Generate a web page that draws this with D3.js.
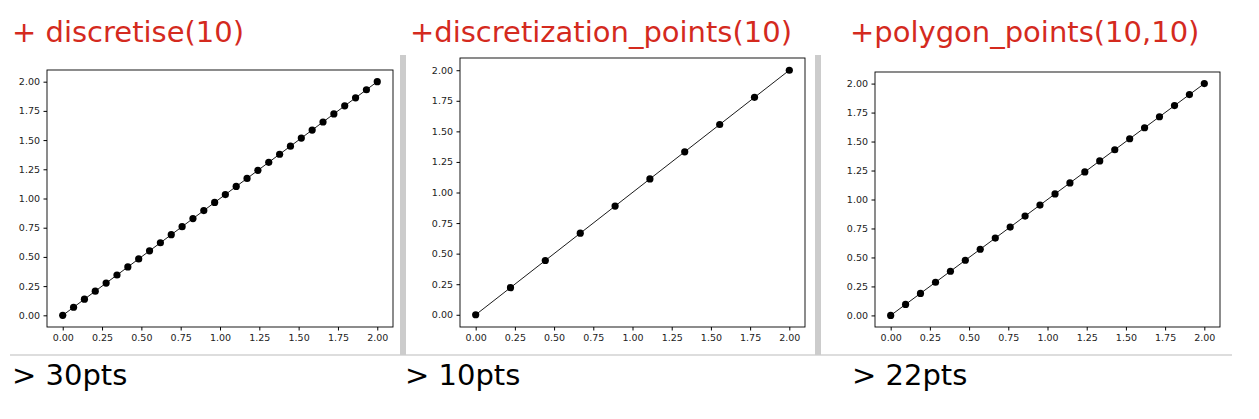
<!DOCTYPE html>
<html><head><meta charset="utf-8">
<script src="https://cdn.jsdelivr.net/npm/d3@7"></script>
<style>body{margin:0;background:#fff;font-family:"DejaVu Sans",sans-serif}</style>
</head><body>
<script>
// values
const titles = ["+ discretise(10)", "+discretization_points(10)", "+polygon_points(10,10)"];
const captions = ["> 30pts", "> 10pts", "> 22pts"];
const tickLabels = [0, 0.25, 0.5, 0.75, 1, 1.25, 1.5, 1.75, 2];
const pts30 = [0, 0.069, 0.138, 0.207, 0.276, 0.345, 0.414, 0.483, 0.552, 0.621, 0.690, 0.759, 0.828, 0.897, 0.966,
  1.034, 1.103, 1.172, 1.241, 1.310, 1.379, 1.448, 1.517, 1.586, 1.655, 1.724, 1.793, 1.862, 1.931, 2];
const pts10 = [0, 0.222, 0.444, 0.667, 0.889, 1.111, 1.333, 1.556, 1.778, 2];
const pts22 = [0, 0.095, 0.190, 0.286, 0.381, 0.476, 0.571, 0.667, 0.762, 0.857, 0.952,
  1.048, 1.143, 1.238, 1.333, 1.429, 1.524, 1.619, 1.714, 1.810, 1.905, 2];

const W = 1259, H = 419;
const svg = d3.select("body").append("svg").attr("width", W).attr("height", H);

// separators
svg.append("line").attr("x1", 10).attr("x2", 1232).attr("y1", 355).attr("y2", 355).attr("stroke", "#bbb");
[403, 818].forEach(x => {
    svg.append("rect").attr("x", x - 3).attr("y", 55).attr("width", 6).attr("height", 300)
        .attr("fill", "#ccc");
});

const panels = [
    {data: pts30, left: 47, right: 393, top: 70, bottom: 327, tx: 12, cx: 12},
    {data: pts10, left: 460, right: 805, top: 58, bottom: 327, tx: 410, cx: 405},
    {data: pts22, left: 875, right: 1220, top: 72, bottom: 327, tx: 850, cx: 852}
];

panels.forEach((p, i) => {
    svg.append("text").attr("x", p.tx).attr("y", 42).attr("font-size", 29)
        .attr("fill", "#d42a1e").text(titles[i]);
    svg.append("text").attr("x", p.cx).attr("y", 385).attr("font-size", 29)
        .attr("fill", "#000").text(captions[i]);

    const x = d3.scaleLinear().domain([-0.1, 2.1]).range([p.left, p.right]);
    const y = d3.scaleLinear().domain([-0.1, 2.1]).range([p.bottom, p.bottom - (p.right - p.left) * (p.bottom - p.top) / (p.right - p.left)]);
    const g = svg.append("g");

    const fmt = d3.format(".2f");
    g.append("g").attr("transform", `translate(0,${p.bottom})`)
        .call(d3.axisBottom(x).tickValues(tickLabels).tickFormat(fmt).tickSize(3.5).tickPadding(3.5));
    g.append("g").attr("transform", `translate(${p.left},0)`)
        .call(d3.axisLeft(y).tickValues(tickLabels).tickFormat(fmt).tickSize(3.5).tickPadding(3.5));
    g.selectAll(".tick text").attr("font-size", 9.5).attr("font-family", "DejaVu Sans").attr("fill", "#222");
    g.selectAll(".domain").remove();
    g.append("rect").attr("x", p.left).attr("y", p.top).attr("width", p.right - p.left)
        .attr("height", p.bottom - p.top).attr("fill", "none").attr("stroke", "#000").attr("stroke-width", 0.9);

    const line = d3.line().x(d => x(d)).y(d => y(d));
    g.append("path").datum(p.data).attr("d", line).attr("fill", "none").attr("stroke", "#000").attr("stroke-width", 0.9);
    g.selectAll("circle").data(p.data).join("circle")
        .attr("cx", d => x(d)).attr("cy", d => y(d)).attr("r", 3.6).attr("fill", "#000");
});
</script>
</body></html>
